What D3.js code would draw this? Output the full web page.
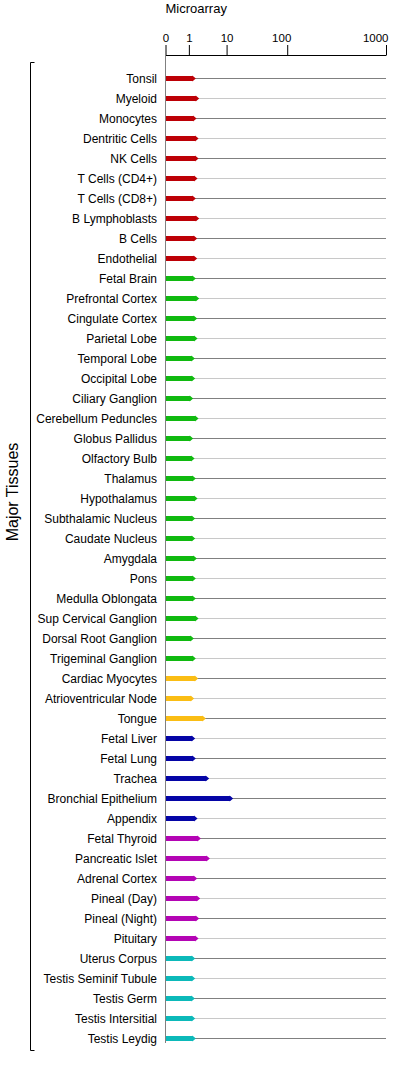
<!DOCTYPE html>
<html lang="en">
<head>
    <meta charset="UTF-8">
    <title>Major Tissues - Microarray</title>
    <script src="https://d3js.org/d3.v7.min.js"></script>
    <style>
        body { margin: 0; background: #fff; }
        svg text { font-family: Arial, "Liberation Sans", sans-serif; fill: #000; }
    </style>
</head>
<body>
    <div id="chart"></div>

    <script>
        // tissues, top to bottom
        const tissues = [
            "Tonsil", "Myeloid", "Monocytes", "Dentritic Cells", "NK Cells",
            "T Cells (CD4+)", "T Cells (CD8+)", "B Lymphoblasts", "B Cells", "Endothelial",
            "Fetal Brain", "Prefrontal Cortex", "Cingulate Cortex", "Parietal Lobe", "Temporal Lobe",
            "Occipital Lobe", "Ciliary Ganglion", "Cerebellum Peduncles", "Globus Pallidus", "Olfactory Bulb",
            "Thalamus", "Hypothalamus", "Subthalamic Nucleus", "Caudate Nucleus", "Amygdala",
            "Pons", "Medulla Oblongata", "Sup Cervical Ganglion", "Dorsal Root Ganglion", "Trigeminal Ganglion",
            "Cardiac Myocytes", "Atrioventricular Node", "Tongue",
            "Fetal Liver", "Fetal Lung", "Trachea", "Bronchial Epithelium", "Appendix",
            "Fetal Thyroid", "Pancreatic Islet", "Adrenal Cortex", "Pineal (Day)", "Pineal (Night)", "Pituitary",
            "Uterus Corpus", "Testis Seminif Tubule", "Testis Germ", "Testis Intersitial", "Testis Leydig"
        ];

        // expression values
        const values = [
            1.74, 2.19, 1.83, 2.10, 2.10,
            1.96, 1.74, 2.19, 1.91, 1.91,
            1.74, 2.19, 1.91, 1.96, 1.62,
            1.66, 1.43, 2.10, 1.43, 1.59,
            1.74, 1.96, 1.66, 1.66, 1.87,
            1.74, 1.74, 2.10, 1.51, 1.74,
            2.05, 1.54, 3.31,
            1.66, 1.74, 4.01, 13.0, 1.96,
            2.44, 4.17, 1.91, 2.33, 2.19, 2.10,
            1.66, 1.66, 1.62, 1.66, 1.74
        ];

        // which tissue group each row belongs to
        const tissueGroup = [
            "immune", "immune", "immune", "immune", "immune",
            "immune", "immune", "immune", "immune", "immune",
            "nervous", "nervous", "nervous", "nervous", "nervous",
            "nervous", "nervous", "nervous", "nervous", "nervous",
            "nervous", "nervous", "nervous", "nervous", "nervous",
            "nervous", "nervous", "nervous", "nervous", "nervous",
            "muscle", "muscle", "muscle",
            "digestive", "digestive", "digestive", "digestive", "digestive",
            "endocrine", "endocrine", "endocrine", "endocrine", "endocrine", "endocrine",
            "reproductive", "reproductive", "reproductive", "reproductive", "reproductive"
        ];

        const tickValues = [0, 1, 10, 100, 1000];
        const tickLabels = ["0", "1", "10", "100", "1000"];

        const groupColor = {
            immune: "#bd0006",
            nervous: "#10ba10",
            muscle: "#fabd14",
            digestive: "#0505a6",
            endocrine: "#b404b4",
            reproductive: "#0cb9b9"
        };

        const W = 393, H = 1080;
        const margin = { top: 55, left: 165.5, right: 7, bottom: 32 };
        const plotW = W - margin.left - margin.right;

        const svg = d3.select("#chart").append("svg")
            .attr("width", W)
            .attr("height", H);

        // compressed log-like axis: piecewise in log1p space, fractions of plot width
        const tickFrac = [0, 0.106, 0.277, 0.552, 1];
        const xs = d3.scaleLinear()
            .domain(tickValues.map(Math.log1p))
            .range(tickFrac.map(f => margin.left + f * plotW));
        const x = v => xs(Math.log1p(v));

        const y = d3.scaleBand()
            .domain(tissues)
            .range([68, 68 + 20 * tissues.length])
            .padding(0);
        const yc = d => y(d) + y.bandwidth() / 2;

        const rows = tissues.map((t, i) => ({ name: t, value: values[i], group: tissueGroup[i], i }));

        // gridlines, alternating dark / light
        svg.append("g").selectAll("line")
            .data(rows)
            .join("line")
            .attr("x1", margin.left)
            .attr("x2", x(1000))
            .attr("y1", d => yc(d.name) + 0.5)
            .attr("y2", d => yc(d.name) + 0.5)
            .attr("stroke", d => d.i % 2 === 0 ? "#808080" : "#c8c8c8")
            .attr("stroke-width", 1);

        // left axis line
        svg.append("line")
            .attr("x1", margin.left).attr("x2", margin.left)
            .attr("y1", margin.top).attr("y2", yc(tissues[tissues.length - 1]) + 5)
            .attr("stroke", "#808080");

        // bars with a small pointed tip
        const hh = 2.5, tip = 3.5, th = 3;
        svg.append("g").selectAll("path")
            .data(rows)
            .join("path")
            .attr("fill", d => groupColor[d.group])
            .attr("d", d => {
                const x0 = x(0) + 0.5, x1 = x(d.value), cy = yc(d.name) + 0.5;
                return `M${x0},${cy - hh}H${x1 - tip}V${cy - th}L${x1},${cy}L${x1 - tip},${cy + th}V${cy + hh}H${x0}Z`;
            });

        // tissue labels
        svg.append("g").selectAll("text")
            .data(rows)
            .join("text")
            .attr("x", 157)
            .attr("y", d => yc(d.name) + 4.5)
            .attr("text-anchor", "end")
            .style("font-size", "12px")
            .text(d => d.name);

        // top axis (scale works in log1p space)
        const axis = svg.append("g")
            .attr("transform", `translate(0,${margin.top})`)
            .call(d3.axisTop(xs)
                .tickValues(tickValues.map(Math.log1p))
                .tickFormat((d, i) => tickLabels[i])
                .tickSize(10)
                .tickSizeOuter(0));
        axis.select(".domain").attr("stroke", "#000");
        axis.selectAll(".tick line").attr("stroke", "#000");
        axis.selectAll("text")
            .style("font-size", "11.5px")
            .attr("font-family", null);
        // the two largest labels sit left of their ticks
        axis.selectAll(".tick text")
            .attr("dx", (d, i) => i === 3 ? -6 : 0)
            .attr("text-anchor", (d, i) => i === 4 ? "end" : "middle")
            .attr("x", (d, i) => i === 4 ? 2 : 0);

        svg.append("text")
            .attr("x", margin.left)
            .attr("y", 12.5)
            .style("font-size", "13px")
            .text("Microarray");

        // group bracket
        const bTop = 62, bBot = 1050, bx = 30.5;
        svg.append("path")
            .attr("d", `M${bx + 4},${bTop + 0.5}H${bx}V${bBot + 0.5}H${bx + 4}`)
            .attr("fill", "none")
            .attr("stroke", "#000");

        svg.append("text")
            .attr("transform", `translate(18,492) rotate(-90)`)
            .attr("text-anchor", "middle")
            .style("font-size", "16px")
            .text("Major Tissues");
    </script>
</body>
</html>
